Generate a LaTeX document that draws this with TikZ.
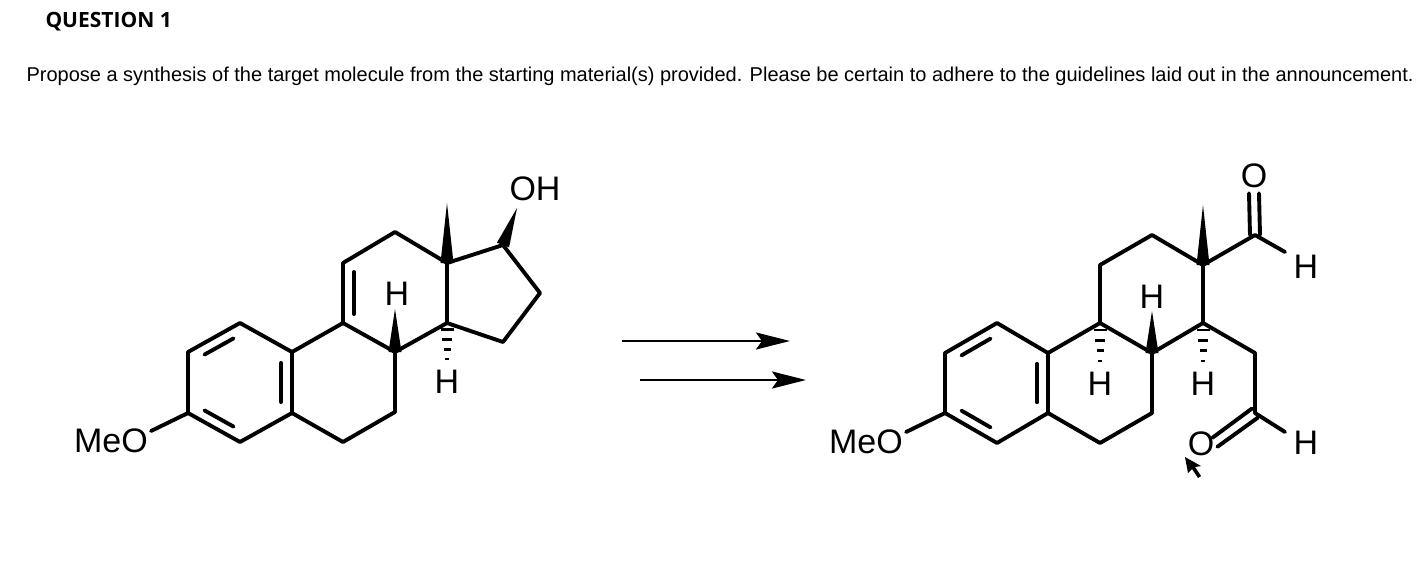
\documentclass[tikz,border=0pt]{standalone}
\usepackage{fontspec}
\setmainfont{Liberation Sans}
\newfontfamily\titlefont{Open Sans}
\usetikzlibrary{arrows.meta,calc}
\tikzset{bond/.style={line width=3.9pt,line cap=round,line join=round},
 lbl/.style={font=\fontsize{34}{34}\selectfont,inner sep=1pt},
 arr/.style={line width=2.6pt,-{Stealth[length=34pt,width=17pt,inset=6pt]}}}
\newcommand{\wdg}[2]{\fill ($(#1)!6.5pt!90:(#2)$) -- ($(#1)!6.5pt!-90:(#2)$) -- (#2) -- cycle;}
\newcommand{\hsh}[2]{\foreach \t/\w in {0.12/2,0.36/3.5,0.6/5,0.84/6.5}{\draw[line width=2.6pt] ($($(#2)!\t!(#1)$)!\w pt!90:(#1)$) -- ($($(#2)!\t!(#1)$)!\w pt!-90:(#1)$);}}
\begin{document}
\begin{tikzpicture}[x=1pt,y=-1pt]
\useasboundingbox (0,0) rectangle (1428,582);
\node[anchor=west,font=\titlefont\bfseries\fontsize{21}{21}\selectfont] (title) at (42,22) {QUESTION 1};
\node[anchor=west,font=\fontsize{20}{20}\selectfont] (instr) at (23,76) {Propose a synthesis of the target molecule from the starting material(s) provided. Please be certain to adhere to the guidelines laid out in the announcement.};
% left molecule
\coordinate (a1) at (240,323); \coordinate (a2) at (188,352); \coordinate (a3) at (188,413);
\coordinate (a4) at (240,442); \coordinate (a5) at (292,413); \coordinate (a6) at (292,352);
\coordinate (c9) at (343,323); \coordinate (c11) at (343,263); \coordinate (c12) at (395,232);
\coordinate (c13) at (447,263); \coordinate (c14) at (447,323); \coordinate (c8) at (395,352);
\coordinate (c7) at (395,412); \coordinate (c6) at (343,442);
\coordinate (c17) at (503,245); \coordinate (c16) at (540,293); \coordinate (c15) at (503,342);
\coordinate (me) at (447,203); \coordinate (ohb) at (517,208);
\coordinate (h8) at (395,309); \coordinate (h14) at (447,364);
\draw[bond] (a1)--(a2)--(a3)--(a4)--(a5)--(a6)--cycle;
\draw[bond] (a6)--(c9)--(c11)--(c12)--(c13)--(c14)--(c8)--(c9);
\draw[bond] (c8)--(c7)--(c6)--(a5);
\draw[bond] (c13)--(c17)--(c16)--(c15)--(c14);
\draw[bond] ($(a2)!0.22!(a1)+(5,9)$)--($(a2)!0.78!(a1)+(5,9)$);
\draw[bond] ($(a3)!0.22!(a4)+(5,-9)$)--($(a3)!0.78!(a4)+(5,-9)$);
\draw[bond] ($(a6)!0.18!(a5)+(-11,0)$)--($(a6)!0.82!(a5)+(-11,0)$);
\draw[bond] ($(c11)!0.15!(c9)+(11,0)$)--($(c11)!0.85!(c9)+(11,0)$);
\wdg{c13}{me} \wdg{c17}{ohb} \wdg{c8}{h8}
\hsh{c14}{h14}
\node[lbl] (oh) at (535,189) {OH};
\node[lbl] (hl1) at (397,294) {H};
\node[lbl] (hl2) at (447,382) {H};
\node[lbl] (meo1) at (111,441) {MeO};
\draw[bond] (meo1.east)++(2,-10) -- (a3);
% arrows
\coordinate (r1) at (622,341); \coordinate (r2) at (790,341);
\coordinate (r3) at (640,380); \coordinate (r4) at (806,380);
\draw[arr] (r1)--(r2);
\draw[arr] (r3)--(r4);
% right molecule
\coordinate (b1) at (997,323); \coordinate (b2) at (945,353); \coordinate (b3) at (945,413);
\coordinate (b4) at (997,443); \coordinate (b5) at (1048,413); \coordinate (b6) at (1048,353);
\coordinate (d9) at (1100,323); \coordinate (d11) at (1100,265); \coordinate (d12) at (1152,235);
\coordinate (d13) at (1203,265); \coordinate (d14) at (1203,323); \coordinate (d8) at (1152,353);
\coordinate (d7) at (1152,413); \coordinate (d6) at (1100,443);
\coordinate (dme) at (1203,205); \coordinate (cho) at (1255,235); \coordinate (cho2) at (1285,252);
\coordinate (ch2) at (1255,353); \coordinate (ch3) at (1255,413); \coordinate (ch4) at (1285,432);
\coordinate (hd9) at (1100,366); \coordinate (hd8) at (1152,311); \coordinate (hd14) at (1203,366);
\draw[bond] (b1)--(b2)--(b3)--(b4)--(b5)--(b6)--cycle;
\draw[bond] (b6)--(d9)--(d11)--(d12)--(d13)--(d14)--(d8)--(d9);
\draw[bond] (d8)--(d7)--(d6)--(b5);
\draw[bond] (d13)--(cho)--(cho2);
\draw[bond] (d14)--(ch2)--(ch3)--(ch4);
\draw[bond] ($(b2)!0.22!(b1)+(5,9)$)--($(b2)!0.78!(b1)+(5,9)$);
\draw[bond] ($(b3)!0.22!(b4)+(5,-9)$)--($(b3)!0.78!(b4)+(5,-9)$);
\draw[bond] ($(b6)!0.18!(b5)+(-11,0)$)--($(b6)!0.82!(b5)+(-11,0)$);
\node[lbl] (o1) at (1254,176) {O};
\draw[bond] ($(cho)+(-5,0)$)--($(o1.south)+(-5,4)$);
\draw[bond] ($(cho)+(5,0)$)--($(o1.south)+(5,4)$);
\node[lbl] (o2) at (1201,444) {O};
\draw[bond] ($(ch3)+(-3,-4.5)$)--($(o2.north east)+(-3,7)$);
\draw[bond] ($(ch3)+(3,4.5)$)--($(o2.north east)+(2,16)$);
\node[lbl] (hc1) at (1306,267) {H};
\node[lbl] (hc2) at (1306,443) {H};
\wdg{d13}{dme} \wdg{d8}{hd8}
\hsh{d9}{hd9} \hsh{d14}{hd14}
\node[lbl] (hr1) at (1152,297) {H};
\node[lbl] (hr2) at (1100,384) {H};
\node[lbl] (hr3) at (1203,384) {H};
\node[lbl] (meo2) at (866,442) {MeO};
\draw[bond] (meo2.east)++(2,-10) -- (b3);
% cursor
\coordinate (cur) at (1185,457);
\fill[black] (cur) -- ++(3,16) -- ++(4,-4) -- ++(6,9) -- ++(3,-2) -- ++(-6,-9) -- ++(6,-1) -- cycle;
\end{tikzpicture}
\end{document}
